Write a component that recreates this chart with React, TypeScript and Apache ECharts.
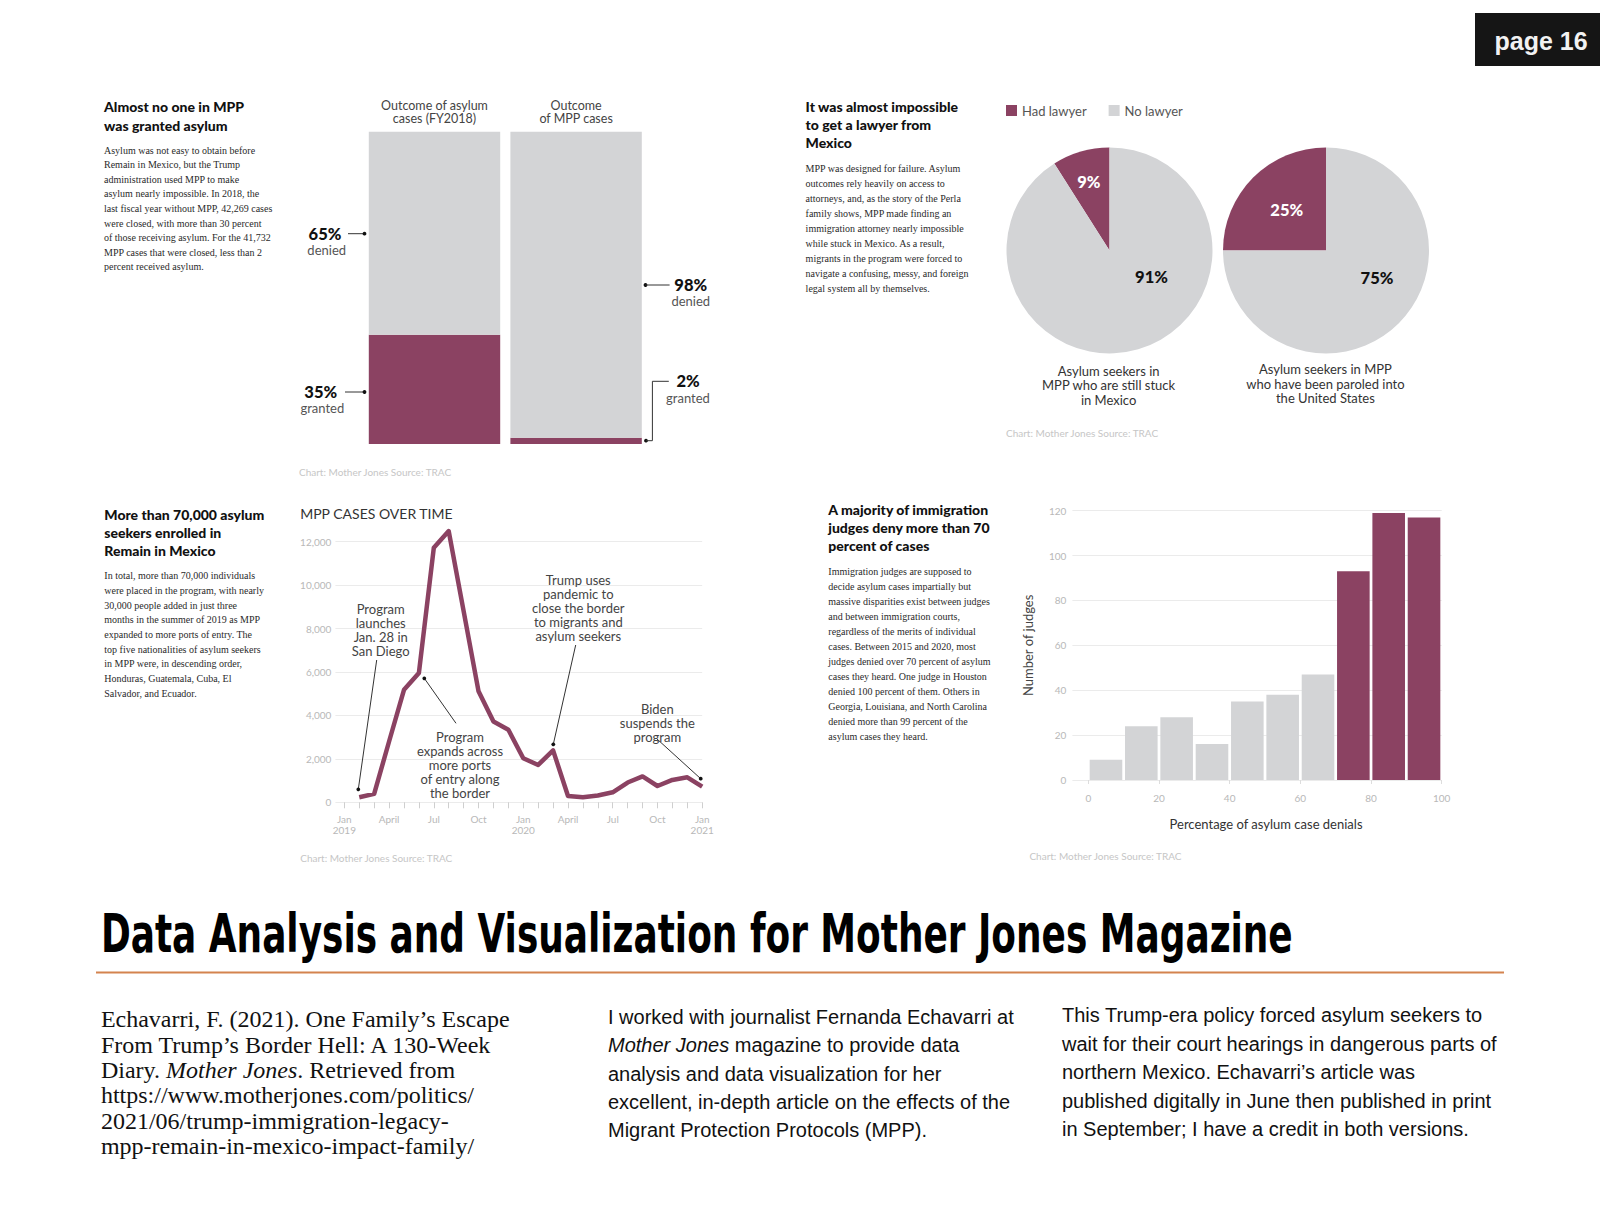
import React, { useEffect, useRef } from 'react';
import * as echarts from 'echarts';

const MAROON = '#8b4262';
const GRAY = '#d3d4d6';
const SANS = 'Lato, "Noto Sans", sans-serif';
const SERIF = '"Liberation Serif", "DejaVu Serif", serif';
const ARIAL = '"Liberation Sans", Arial, sans-serif';
const NARROW = '"Liberation Sans Narrow", "DejaVu Sans Condensed", "Liberation Sans", sans-serif';

// ---- Chart 1: outcome of asylum cases (stacked bars, percent)
const outcomeCategories = ['Outcome of asylum\ncases (FY2018)', 'Outcome\nof MPP cases'];
const grantedPct = [35, 2];
const deniedPct = [65, 98];

// ---- Chart 2: lawyer access (pies, percent)
const lawyerLegend = ['Had lawyer', 'No lawyer'];
const hadLawyerPct = [9, 25];
const noLawyerPct = [91, 75];

// ---- Chart 3: MPP cases over time (months since Jan 2019)
const caseMonthIndex = [1, 2, 3, 4, 5, 6, 7, 8, 9, 10, 11, 12, 13, 14, 15, 16, 17, 18, 19, 20, 21, 22, 23, 24];
const caseValues = [230, 390, 2800, 5180, 5950, 11720, 12490, 8800, 5110, 3720, 3340, 2030, 1720, 2390, 290, 230, 310, 460, 910, 1190, 750, 1030, 1150, 720];
const monthTickValues = [0, 3, 6, 9, 12, 15, 18, 21, 24];
const monthTickLabels = ['Jan\n2019', 'April', 'Jul', 'Oct', 'Jan\n2020', 'April', 'Jul', 'Oct', 'Jan\n2021'];
const monthMinorTicks = [0, 1, 2, 3, 4, 5, 6, 7, 8, 9, 10, 11, 12, 13, 14, 15, 16, 17, 18, 19, 20, 21, 22, 23, 24];

// ---- Chart 4: judges by denial rate (histogram, bins of 10%)
const denialBinStarts = [0, 10, 20, 30, 40, 50, 60, 70, 80, 90];
const judgeCounts = [9, 24, 28, 16, 35, 38, 47, 93, 119, 117];
const denialTickValues = [0, 20, 40, 60, 80, 100];

// ---- texts
const title1 = ['Almost no one in MPP', 'was granted asylum'];
const body1 = [
  'Asylum was not easy to obtain before',
  'Remain in Mexico, but the Trump',
  'administration used MPP to make',
  'asylum nearly impossible. In 2018, the',
  'last fiscal year without MPP, 42,269 cases',
  'were closed, with more than 30 percent',
  'of those receiving asylum. For the 41,732',
  'MPP cases that were closed, less than 2',
  'percent received asylum.',
];
const title2 = ['It was almost impossible', 'to get a lawyer from', 'Mexico'];
const body2 = [
  'MPP was designed for failure. Asylum',
  'outcomes rely heavily on access to',
  'attorneys, and, as the story of the Perla',
  'family shows, MPP made finding an',
  'immigration attorney nearly impossible',
  'while stuck in Mexico. As a result,',
  'migrants in the program were forced to',
  'navigate a confusing, messy, and foreign',
  'legal system all by themselves.',
];
const pieCaptions = [
  ['Asylum seekers in', 'MPP who are still stuck', 'in Mexico'],
  ['Asylum seekers in MPP', 'who have been paroled into', 'the United States'],
];
const title3 = ['More than 70,000 asylum', 'seekers enrolled in', 'Remain in Mexico'];
const body3 = [
  'In total, more than 70,000 individuals',
  'were placed in the program, with nearly',
  '30,000 people added in just three',
  'months in the summer of 2019 as MPP',
  'expanded to more ports of entry. The',
  'top five nationalities of asylum seekers',
  'in MPP were, in descending order,',
  'Honduras, Guatemala, Cuba, El',
  'Salvador, and Ecuador.',
];
const title4 = ['A majority of immigration', 'judges deny more than 70', 'percent of cases'];
const body4 = [
  'Immigration judges are supposed to',
  'decide asylum cases impartially but',
  'massive disparities exist between judges',
  'and between immigration courts,',
  'regardless of the merits of individual',
  'cases. Between 2015 and 2020, most',
  'judges denied over 70 percent of asylum',
  'cases they heard. One judge in Houston',
  'denied 100 percent of them. Others in',
  'Georgia, Louisiana, and North Carolina',
  'denied more than 99 percent of the',
  'asylum cases they heard.',
];
const pageTitle = 'Data Analysis and Visualization for Mother Jones Magazine';
const col1 = [
  'Echavarri, F. (2021). One Family’s Escape',
  'From Trump’s Border Hell: A 130-Week',
  'Diary. {i|Mother Jones}. Retrieved from',
  'https://www.motherjones.com/politics/',
  '2021/06/trump-immigration-legacy-',
  'mpp-remain-in-mexico-impact-family/',
];
const col2 = [
  'I worked with journalist Fernanda Echavarri at',
  '{i|Mother Jones} magazine to provide data',
  'analysis and data visualization for her',
  'excellent, in-depth article on the effects of the',
  'Migrant Protection Protocols (MPP).',
];
const col3 = [
  'This Trump-era policy forced asylum seekers to',
  'wait for their court hearings in dangerous parts of',
  'northern Mexico. Echavarri’s article was',
  'published digitally in June then published in print',
  'in September; I have a credit in both versions.',
];
const SOURCE = 'Chart: Mother Jones Source: TRAC';

type TO = { size?: number; family?: string; weight?: any; fill?: string; align?: string; style?: string; italicRich?: boolean; lh?: number };

function txt(text: string, x: number, y: number, o: TO = {}): any {
  const size = o.size ?? 13;
  const family = o.family ?? SANS;
  const fill = o.fill ?? '#333';
  const style: any = {
    text,
    x: 0,
    y: 0,
    fill,
    fontSize: size,
    fontFamily: family,
    fontWeight: o.weight ?? 'normal',
    fontStyle: o.style ?? 'normal',
    textAlign: o.align ?? 'left',
    align: o.align ?? 'left',
    textVerticalAlign: 'middle',
    verticalAlign: 'middle',
  };
  if (o.lh) style.lineHeight = o.lh;
  if (o.italicRich) {
    style.rich = { i: { fontStyle: 'italic', fontSize: size, fontFamily: family, fill } };
  }
  return { type: 'text', silent: true, z: 50, x, y, style };
}
function lines(arr: string[], x: number, y0: number, lh: number, o: TO = {}): any[] {
  return arr.map((t, i) => txt(t, x, y0 + i * lh, o));
}
function seg(x1: number, y1: number, x2: number, y2: number, color = '#333'): any {
  return { type: 'line', silent: true, z: 50, shape: { x1, y1, x2, y2 }, style: { stroke: color, lineWidth: 1 } };
}
function dot(cx: number, cy: number): any {
  return { type: 'circle', silent: true, z: 50, shape: { cx, cy, r: 1.9 }, style: { fill: '#111' } };
}

function measure(text: string, font: string): number {
  const c = document.createElement('canvas').getContext('2d');
  if (!c) return 1192;
  c.font = font;
  return c.measureText(text).width || 1192;
}

const HEAVY = 900;
const PCT = 16.5;
const pctO = (fill: string): TO => ({ size: PCT, weight: HEAVY, fill, align: 'center', lh: 16 });

export default function App() {
  const ref = useRef<HTMLDivElement>(null);
  useEffect(() => {
    document.body.style.margin = '0';
    if (!ref.current) return;
    const chart = echarts.init(ref.current, undefined, { renderer: 'svg' });
    const titleFont = `bold 54px ${NARROW}`;
    const titleScale = 1192 / measure(pageTitle, titleFont);

    const axisTxt = { fontFamily: SANS, fontSize: 10, color: '#b8b8b8' };
    const sub = { size: 13, fill: '#555', align: 'center', lh: 13 } as TO;
    const graphic: any[] = [
      // page badge
      { type: 'rect', silent: true, z: 40, shape: { x: 1475, y: 13, width: 125, height: 53 }, style: { fill: '#151515' } },
      txt('page 16', 1541, 40.5, { size: 25, family: ARIAL, weight: 'bold', fill: '#f2f2f2', align: 'center' }),

      // chart 1 texts
      ...lines(title1, 104, 106.7, 18.3, { size: 14, weight: HEAVY, fill: '#111' }),
      ...lines(body1, 104, 150, 14.6, { size: 10, family: SERIF, fill: '#2a2a2a' }),
      txt('65%', 325, 234, pctO('#111')),
      txt('denied', 326.7, 249.5, sub),
      seg(348, 233.7, 364, 233.7), dot(364.5, 233.7),
      txt('35%', 320.7, 392.3, pctO('#111')),
      txt('granted', 322.3, 408, sub),
      seg(345, 392, 364, 392), dot(364.5, 392),
      dot(645.5, 285), seg(645.5, 285, 669.6, 285),
      txt('98%', 690.7, 285, pctO('#111')),
      txt('denied', 690.8, 300.5, sub),
      dot(646, 440.7),
      { type: 'polyline', silent: true, z: 50, shape: { points: [[646, 440.7], [652.4, 440.7], [652.4, 381.3], [668.8, 381.3]] }, style: { stroke: '#333', lineWidth: 1, fill: null } },
      txt('2%', 688, 381.3, pctO('#111')),
      txt('granted', 688, 398.2, sub),
      txt(SOURCE, 299, 472, { size: 10, fill: '#c6c6c6' }),

      // chart 2 texts
      ...lines(title2, 805.6, 106.7, 18, { size: 14, weight: HEAVY, fill: '#111' }),
      ...lines(body2, 805.6, 168.3, 15, { size: 10, family: SERIF, fill: '#2a2a2a' }),
      txt(`${hadLawyerPct[0]}%`, 1088.8, 181.7, pctO('#fff')),
      txt(`${noLawyerPct[0]}%`, 1151.5, 276.7, pctO('#111')),
      txt(`${hadLawyerPct[1]}%`, 1286.7, 210, pctO('#fff')),
      txt(`${noLawyerPct[1]}%`, 1377, 277.7, pctO('#111')),
      ...lines(pieCaptions[0], 1108.6, 370.7, 14.4, { size: 13, fill: '#333', align: 'center' }),
      ...lines(pieCaptions[1], 1325.4, 369.3, 14.5, { size: 13, fill: '#333', align: 'center' }),
      txt(SOURCE, 1006, 432.7, { size: 10, fill: '#c6c6c6' }),

      // chart 3 texts
      ...lines(title3, 104.3, 514.3, 17.9, { size: 14, weight: HEAVY, fill: '#111' }),
      ...lines(body3, 104.3, 575.7, 14.67, { size: 10, family: SERIF, fill: '#2a2a2a' }),
      txt('MPP CASES OVER TIME', 300.2, 513.3, { size: 14, fill: '#333' }),
      ...lines(['Program', 'launches', 'Jan. 28 in', 'San Diego'], 380.7, 609, 14, { size: 13, fill: '#444', align: 'center' }),
      seg(376.7, 660, 358.3, 789.3), dot(358.3, 789.3),
      ...lines(['Program', 'expands across', 'more ports', 'of entry along', 'the border'], 460, 736.7, 14.1, { size: 13, fill: '#444', align: 'center' }),
      seg(456, 723.3, 424.3, 678.3), dot(424.3, 678.3),
      ...lines(['Trump uses', 'pandemic to', 'close the border', 'to migrants and', 'asylum seekers'], 578.3, 580, 14, { size: 13, fill: '#444', align: 'center' }),
      seg(575.7, 645, 553.3, 744.3), dot(553.3, 744.3),
      ...lines(['Biden', 'suspends the', 'program'], 657.3, 709, 14.2, { size: 13, fill: '#444', align: 'center' }),
      seg(656.7, 738.7, 700.7, 778.7), dot(700.7, 778.7),
      txt(SOURCE, 300.2, 857.7, { size: 10, fill: '#c6c6c6' }),

      // chart 4 texts
      ...lines(title4, 828.3, 509, 18, { size: 14, weight: HEAVY, fill: '#111' }),
      ...lines(body4, 828.3, 571.7, 15, { size: 10, family: SERIF, fill: '#2a2a2a' }),
      txt(SOURCE, 1029.4, 855.7, { size: 10, fill: '#c6c6c6' }),

      // page heading + rule
      {
        type: 'text', silent: true, z: 50, x: 100.9, y: 933, scaleX: titleScale,
        style: { text: pageTitle, x: 0, y: 0, fill: '#000', fontSize: 54, fontFamily: NARROW, fontWeight: 'bold', textAlign: 'left', align: 'left', textVerticalAlign: 'middle', verticalAlign: 'middle' },
      },
      { type: 'line', silent: true, z: 50, shape: { x1: 96, y1: 972.5, x2: 1504, y2: 972.5 }, style: { stroke: '#d4834f', lineWidth: 2 } },

      // bottom columns
      ...lines(col1, 100.9, 1019.3, 25.3, { size: 24, family: SERIF, fill: '#111', italicRich: true }),
      ...lines(col2, 608, 1016.7, 28.4, { size: 20, family: ARIAL, fill: '#111', italicRich: true }),
      ...lines(col3, 1062, 1015, 28.5, { size: 20, family: ARIAL, fill: '#111' }),
    ];

    const option: any = {
      animation: false,
      backgroundColor: '#ffffff',
      legend: {
        data: lawyerLegend,
        left: 1006,
        top: 104,
        itemWidth: 11,
        itemHeight: 11,
        itemGap: 22,
        icon: 'rect',
        selectedMode: false,
        padding: 0,
        textStyle: { fontFamily: SANS, fontSize: 13, color: '#555' },
      },
      grid: [
        { left: 363.7, top: 131.7, width: 283.2, height: 312.3 },
        { left: 335.4, top: 541.7, width: 366.8, height: 260.6 },
        { left: 1072.4, top: 510.7, width: 369.3, height: 269.3 },
      ],
      xAxis: [
        {
          gridIndex: 0, type: 'category', data: outcomeCategories, position: 'top',
          axisLine: { show: false }, axisTick: { show: false }, splitLine: { show: false },
          axisLabel: { color: '#444', fontSize: 12.5, fontFamily: SANS, lineHeight: 12.5, margin: 7, interval: 0 },
        },
        {
          gridIndex: 1, type: 'value', min: -0.6, max: 24,
          splitLine: { show: false }, axisLine: { show: false },
          axisTick: { show: true, customValues: monthMinorTicks, length: 6, lineStyle: { color: '#cfcfcf' } },
          axisLabel: {
            ...axisTxt, customValues: monthTickValues, lineHeight: 11, margin: 11,
            formatter: (v: number) => { const k = monthTickValues.indexOf(Math.round(v)); return k >= 0 ? monthTickLabels[k] : ''; },
          },
        },
        {
          gridIndex: 2, type: 'value', min: -4.5, max: 100,
          splitLine: { show: false }, axisLine: { show: false },
          axisTick: { show: true, customValues: denialTickValues, length: 4, lineStyle: { color: '#dddddd' } },
          axisLabel: { ...axisTxt, customValues: denialTickValues, margin: 13 },
          name: 'Percentage of asylum case denials', nameLocation: 'middle', nameGap: 37,
          nameTextStyle: { fontFamily: SANS, fontSize: 13, color: '#333', padding: [0, 0, 0, 18] },
        },
      ],
      yAxis: [
        { gridIndex: 0, type: 'value', min: 0, max: 100, show: false },
        {
          gridIndex: 1, type: 'value', min: 0, max: 12000, interval: 2000,
          axisLine: { show: false }, axisTick: { show: false },
          axisLabel: { ...axisTxt, margin: 4, formatter: (v: number) => v.toLocaleString('en-US') },
          splitLine: { show: true, lineStyle: { color: '#ebebeb', width: 1 } },
        },
        {
          gridIndex: 2, type: 'value', min: 0, max: 120, interval: 20,
          axisLine: { show: false }, axisTick: { show: false },
          axisLabel: { ...axisTxt, margin: 6 },
          splitLine: { show: true, lineStyle: { color: '#ebebeb', width: 1 } },
          name: 'Number of judges', nameLocation: 'middle', nameGap: 38, nameRotate: 90,
          nameTextStyle: { fontFamily: SANS, fontSize: 13, color: '#444' },
        },
      ],
      series: [
        {
          type: 'bar', name: 'granted', xAxisIndex: 0, yAxisIndex: 0, stack: 'outcome', data: grantedPct,
          barWidth: 131.4, itemStyle: { color: MAROON }, silent: true,
        },
        {
          type: 'bar', name: 'denied', xAxisIndex: 0, yAxisIndex: 0, stack: 'outcome', data: deniedPct,
          barWidth: 131.4, itemStyle: { color: GRAY }, silent: true,
        },
        ...[0, 1].map((k) => ({
          type: 'pie', center: [k === 0 ? 1109.5 : 1326, 250.4], radius: 103,
          startAngle: 90, clockwise: false, silent: true, z: 2,
          label: { show: false }, labelLine: { show: false },
          itemStyle: { borderWidth: 0 },
          data: [
            { name: lawyerLegend[0], value: hadLawyerPct[k], itemStyle: { color: MAROON } },
            { name: lawyerLegend[1], value: noLawyerPct[k], itemStyle: { color: GRAY } },
          ],
        })),
        {
          type: 'line', xAxisIndex: 1, yAxisIndex: 1, clip: false, silent: true,
          data: caseValues.map((v, i) => [caseMonthIndex[i], v]),
          showSymbol: false, symbol: 'none',
          lineStyle: { color: MAROON, width: 4.5, join: 'round' },
        },
        {
          type: 'bar', xAxisIndex: 2, yAxisIndex: 2, barWidth: 32.6, silent: true,
          data: denialBinStarts.map((s, i) => ({ value: [s + 5, judgeCounts[i]], itemStyle: { color: s >= 70 ? MAROON : GRAY } })),
        },
      ],
      graphic: { elements: graphic },
    };
    chart.setOption(option);
    return () => chart.dispose();
  }, []);
  return <div ref={ref} style={{ position: 'absolute', left: 0, top: 0, width: 1600, height: 1224 }} />;
}
